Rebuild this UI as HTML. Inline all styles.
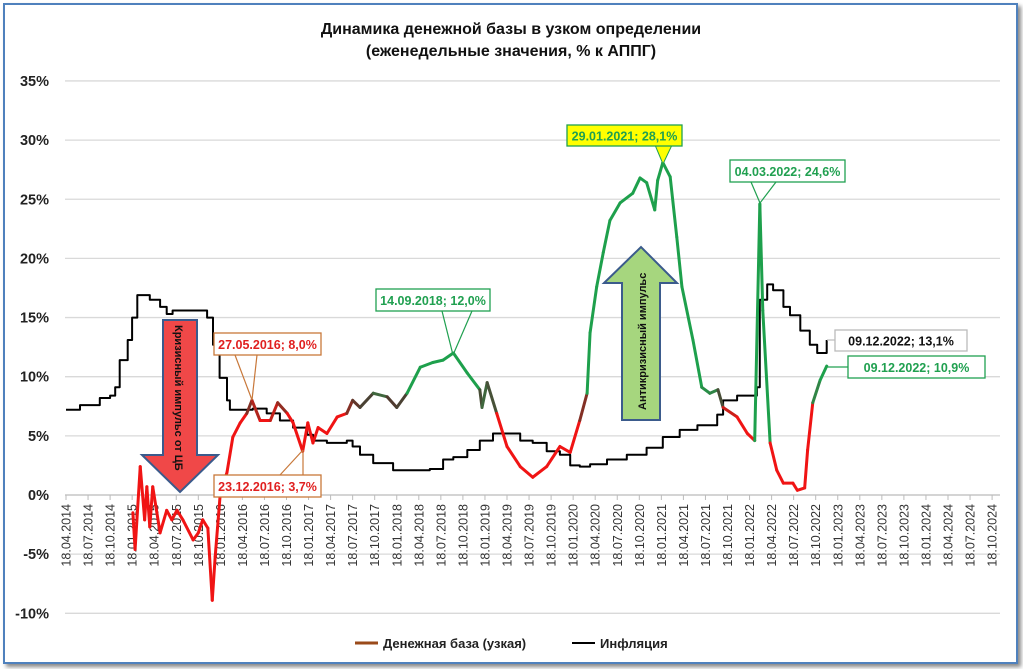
<!DOCTYPE html>
<html><head><meta charset="utf-8">
<style>
body{margin:0;width:1023px;height:669px;background:#fff;overflow:hidden;font-family:"Liberation Sans",sans-serif}
#frame{position:absolute;left:3px;top:3px;width:1011px;height:657px;border:2px solid #4f81bd;box-shadow:3px 3px 4px #888;background:#fff}
</style></head><body>
<div id="frame"></div>
<svg id="c" width="1023" height="669" style="position:absolute;left:0;top:0"></svg>
<script>
const yTicks=[35,30,25,20,15,10,5,0,-5,-10];
const xTickLabels=[];
for(let y=2014;y<=2024;y++){for(const m of ["01","04","07","10"]){if((y===2014&&m==="01"))continue;xTickLabels.push("18."+m+"."+y);}}
const infMonths=[0,1.9,3.9,4.6,6.0,6.7,7.3,8.4,9.0,9.7,10.5,11.4,12.8,13.7,14.5,15.9,18.2,19.2,20.0,20.9,21.9,22.3,24.1,25.4,27.3,29.1,30.9,32.8,33.6,35.5,37.3,38.2,39.0,40.0,41.8,44.5,49.5,51.3,52.7,54.6,56.3,58.1,60.8,61.8,63.5,65.4,67.2,68.6,69.9,71.3,73.6,76.3,79.0,81.2,83.5,85.9,88.6,89.4,91.3,94.0,94.4,95.4,96.2,97.6,98.5,99.9,101.2,102.2,103,103.5];
const infValues=[7.2,7.6,7.6,8.2,8.4,9.1,11.4,13.1,15.0,16.9,16.9,16.5,15.9,15.3,15.6,15.6,15.6,15.0,12.7,9.9,8.0,7.2,7.2,7.3,6.9,6.3,5.7,5.1,4.6,4.4,4.4,4.6,4.1,3.4,2.7,2.1,2.2,3.0,3.2,3.8,4.6,5.2,5.2,4.6,4.4,3.7,3.4,2.5,2.4,2.6,3.0,3.4,4.0,4.9,5.5,5.9,6.8,8.0,8.4,9.1,16.5,17.8,17.3,15.9,15.2,13.9,12.7,12.0,12.0,13.1];
const mbMonths=[9.1,9.4,10.1,10.7,11.0,11.4,11.8,12.8,13.7,14.4,15.1,15.9,17.3,18.0,18.6,19.3,19.9,20.3,21.0,21.9,22.7,23.7,24.6,25.3,26.4,27.8,28.8,30.1,30.9,32.2,32.9,33.6,34.3,35.5,36.9,38.2,39.0,40.0,41.8,43.7,45.0,46.4,48.2,49.9,51.3,52.7,54.6,56.3,56.6,57.3,58.6,60.0,61.8,63.5,65.4,67.2,68.6,69.9,70.9,71.3,72.2,73.1,74.0,75.4,77.1,78.1,79.0,80.1,80.5,81.2,82.2,83.1,83.8,85.3,86.5,87.6,88.7,89.4,91.3,92.7,93.7,94.4,94.8,95.8,96.7,97.6,98.9,99.5,100.5,100.9,101.6,102.6,103.5];
const mbValues=[-1.5,-4.6,2.4,-2.1,0.7,-2.7,0.7,-3.2,-1.3,-2.1,-1.3,-2.1,-3.8,-3.2,-2.1,-2.8,-8.9,-5.2,0.2,1.9,4.9,6.1,6.9,8.0,6.3,6.3,7.8,6.9,6.1,3.7,6.1,4.4,5.7,5.2,6.6,6.9,8.0,7.4,8.6,8.3,7.4,8.6,10.8,11.2,11.4,12.0,10.3,8.9,7.4,9.5,6.9,4.1,2.4,1.5,2.4,4.1,3.6,6.3,8.6,13.7,17.6,20.5,23.2,24.7,25.5,26.8,26.4,24.1,26.6,28.1,26.9,21.8,17.6,13.1,9.1,8.6,8.9,7.4,6.6,5.2,4.6,24.6,15.6,4.4,2.1,1.0,1.0,0.4,0.6,3.8,7.8,9.7,10.9];

const svg=document.getElementById('c');const NS="http://www.w3.org/2000/svg";
function mk(t,a,p){const e=document.createElementNS(NS,t);for(const k in a)e.setAttribute(k,a[k]);(p||svg).appendChild(e);return e;}
const X0=66,XS=7.35,Y0=495,YS=11.83;
const xs=m=>X0+m*XS, ys=v=>Y0-v*YS;

let t=mk('text',{x:511,y:34,'text-anchor':'middle','font-size':16,'font-weight':'bold',fill:'#111'});t.textContent='Динамика денежной базы в узком определении';

t=mk('text',{x:511,y:56,'text-anchor':'middle','font-size':16,'font-weight':'bold',fill:'#111'});t.textContent='(еженедельные значения, % к АППГ)';


yTicks.forEach(v=>{
 const g=mk('line',{x1:65,x2:1000,y1:ys(v),y2:ys(v),stroke:v===0?'#bbb':'#d9d9d9','stroke-width':1.3});
 
 const l=mk('text',{x:49,y:ys(v)+5,'text-anchor':'end','font-size':14.5,'font-weight':'bold',fill:'#222'});l.textContent=v+'%';
 
});
xTickLabels.forEach((s,i)=>{
 const x=xs(i*3);
 const tk=mk('line',{x1:x,x2:x,y1:495,y2:500,stroke:'#bbb'});
 
 const l=mk('text',{transform:`translate(${x+4.5},504) rotate(-90)`,'text-anchor':'end','font-size':12.5,fill:'#333'});l.textContent=s;
 
});

// Arrows
const ra=mk('polygon',{points:'163,320 197,320 197,455 218,455 180,492 142,455 163,455',fill:'#f04848',stroke:'#3b5b8c','stroke-width':2});

t=mk('text',{transform:'translate(175,325) rotate(90)','font-size':11,'font-weight':'bold',fill:'#111'});t.textContent='Кризисный импульс от ЦБ';

const ga=mk('polygon',{points:'622,420 660,420 660,283 677,283 641,247 604,283 622,283',fill:'#a6d67e',stroke:'#3b5b8c','stroke-width':2});

t=mk('text',{transform:'translate(646,410) rotate(-90)','font-size':11,'font-weight':'bold',fill:'#111'});t.textContent='Антикризисный импульс';


// inflation (step line)
let d='';infMonths.forEach((m,i)=>{
 if(i===0)d+='M'+xs(m).toFixed(1)+','+ys(infValues[i]).toFixed(1);
 else d+='L'+xs(m).toFixed(1)+','+ys(infValues[i-1]).toFixed(1)+'L'+xs(m).toFixed(1)+','+ys(infValues[i]).toFixed(1);
});
const ip=mk('path',{d,fill:'none',stroke:'#000','stroke-width':2,'stroke-linejoin':'round'});


// money base coloured segments
function col(v){const a=Math.max(0,Math.min(1,(v-6.8)/2.2));
 const r=Math.round(240*(1-a)+30*a),g=Math.round(20*(1-a)+160*a),b=Math.round(20*(1-a)+76*a);
 const mid=1-Math.abs(a-0.5)*2;return `rgb(${Math.round(r*(1-0.45*mid))},${Math.round(g*(1-0.35*mid))},${b})`;}
for(let i=1;i<mbMonths.length;i++){
 const s=mk('line',{x1:xs(mbMonths[i-1]),y1:ys(mbValues[i-1]),x2:xs(mbMonths[i]),y2:ys(mbValues[i]),stroke:col((mbValues[i]+mbValues[i-1])/2),'stroke-width':3,'stroke-linecap':'round'});
 
}

// callouts
function callout(name,x,y,w,h,txt,color,border,fill,lines){
 lines.forEach(p=>{const l=mk('line',{x1:p[0],y1:p[1],x2:p[2],y2:p[3],stroke:border,'stroke-width':1.2});
  });
 const r=mk('rect',{x,y,width:w,height:h,fill:fill||'#fff',stroke:border,'stroke-width':1.3});
 
 const tt=mk('text',{x:x+w/2,y:y+h/2+5,'text-anchor':'middle','font-size':12.5,'font-weight':'bold',fill:color});tt.textContent=txt;
 
}
callout('annot-2016-05',214,333,107,22,'27.05.2016; 8,0%','#e02020','#c8783a',null,[[235,355,252,400],[257,355,252,400]]);
callout('annot-2016-12',214,475,107,22,'23.12.2016; 3,7%','#e02020','#c8783a',null,[[280,475,303,450],[303,450,303,475]]);
callout('annot-2018-09',376,289,114,22,'14.09.2018; 12,0%','#20a050','#20a050',null,[[442,311,453,355],[472,311,453,355]]);
const tri=mk('polygon',{points:'655,145 672,145 663,164',fill:'#ffff00',stroke:'#20a050'});

callout('annot-2021-01',567,125,115,21,'29.01.2021; 28,1%','#20a050','#20a050','#ffff00',[]);
callout('annot-2022-03',730,160,115,22,'04.03.2022; 24,6%','#20a050','#20a050',null,[[751,182,760,203],[776,182,760,203]]);
callout('annot-2022-12-inflation',835,330,132,21,'09.12.2022; 13,1%','#111','#bbb',null,[[827,340,835,340]]);
callout('annot-2022-12-base',848,356,137,22,'09.12.2022; 10,9%','#20a050','#20a050',null,[[827,367,848,367]]);

// legend
let lg=mk('line',{x1:355,x2:378,y1:643,y2:643,stroke:'#9a4a1a','stroke-width':3});

t=mk('text',{x:383,y:648,'font-size':13,'font-weight':'bold',fill:'#222'});t.textContent='Денежная база (узкая)';

lg=mk('line',{x1:572,x2:595,y1:643,y2:643,stroke:'#000','stroke-width':2});

t=mk('text',{x:600,y:648,'font-size':13,'font-weight':'bold',fill:'#222'});t.textContent='Инфляция';

</script>
</body></html>
